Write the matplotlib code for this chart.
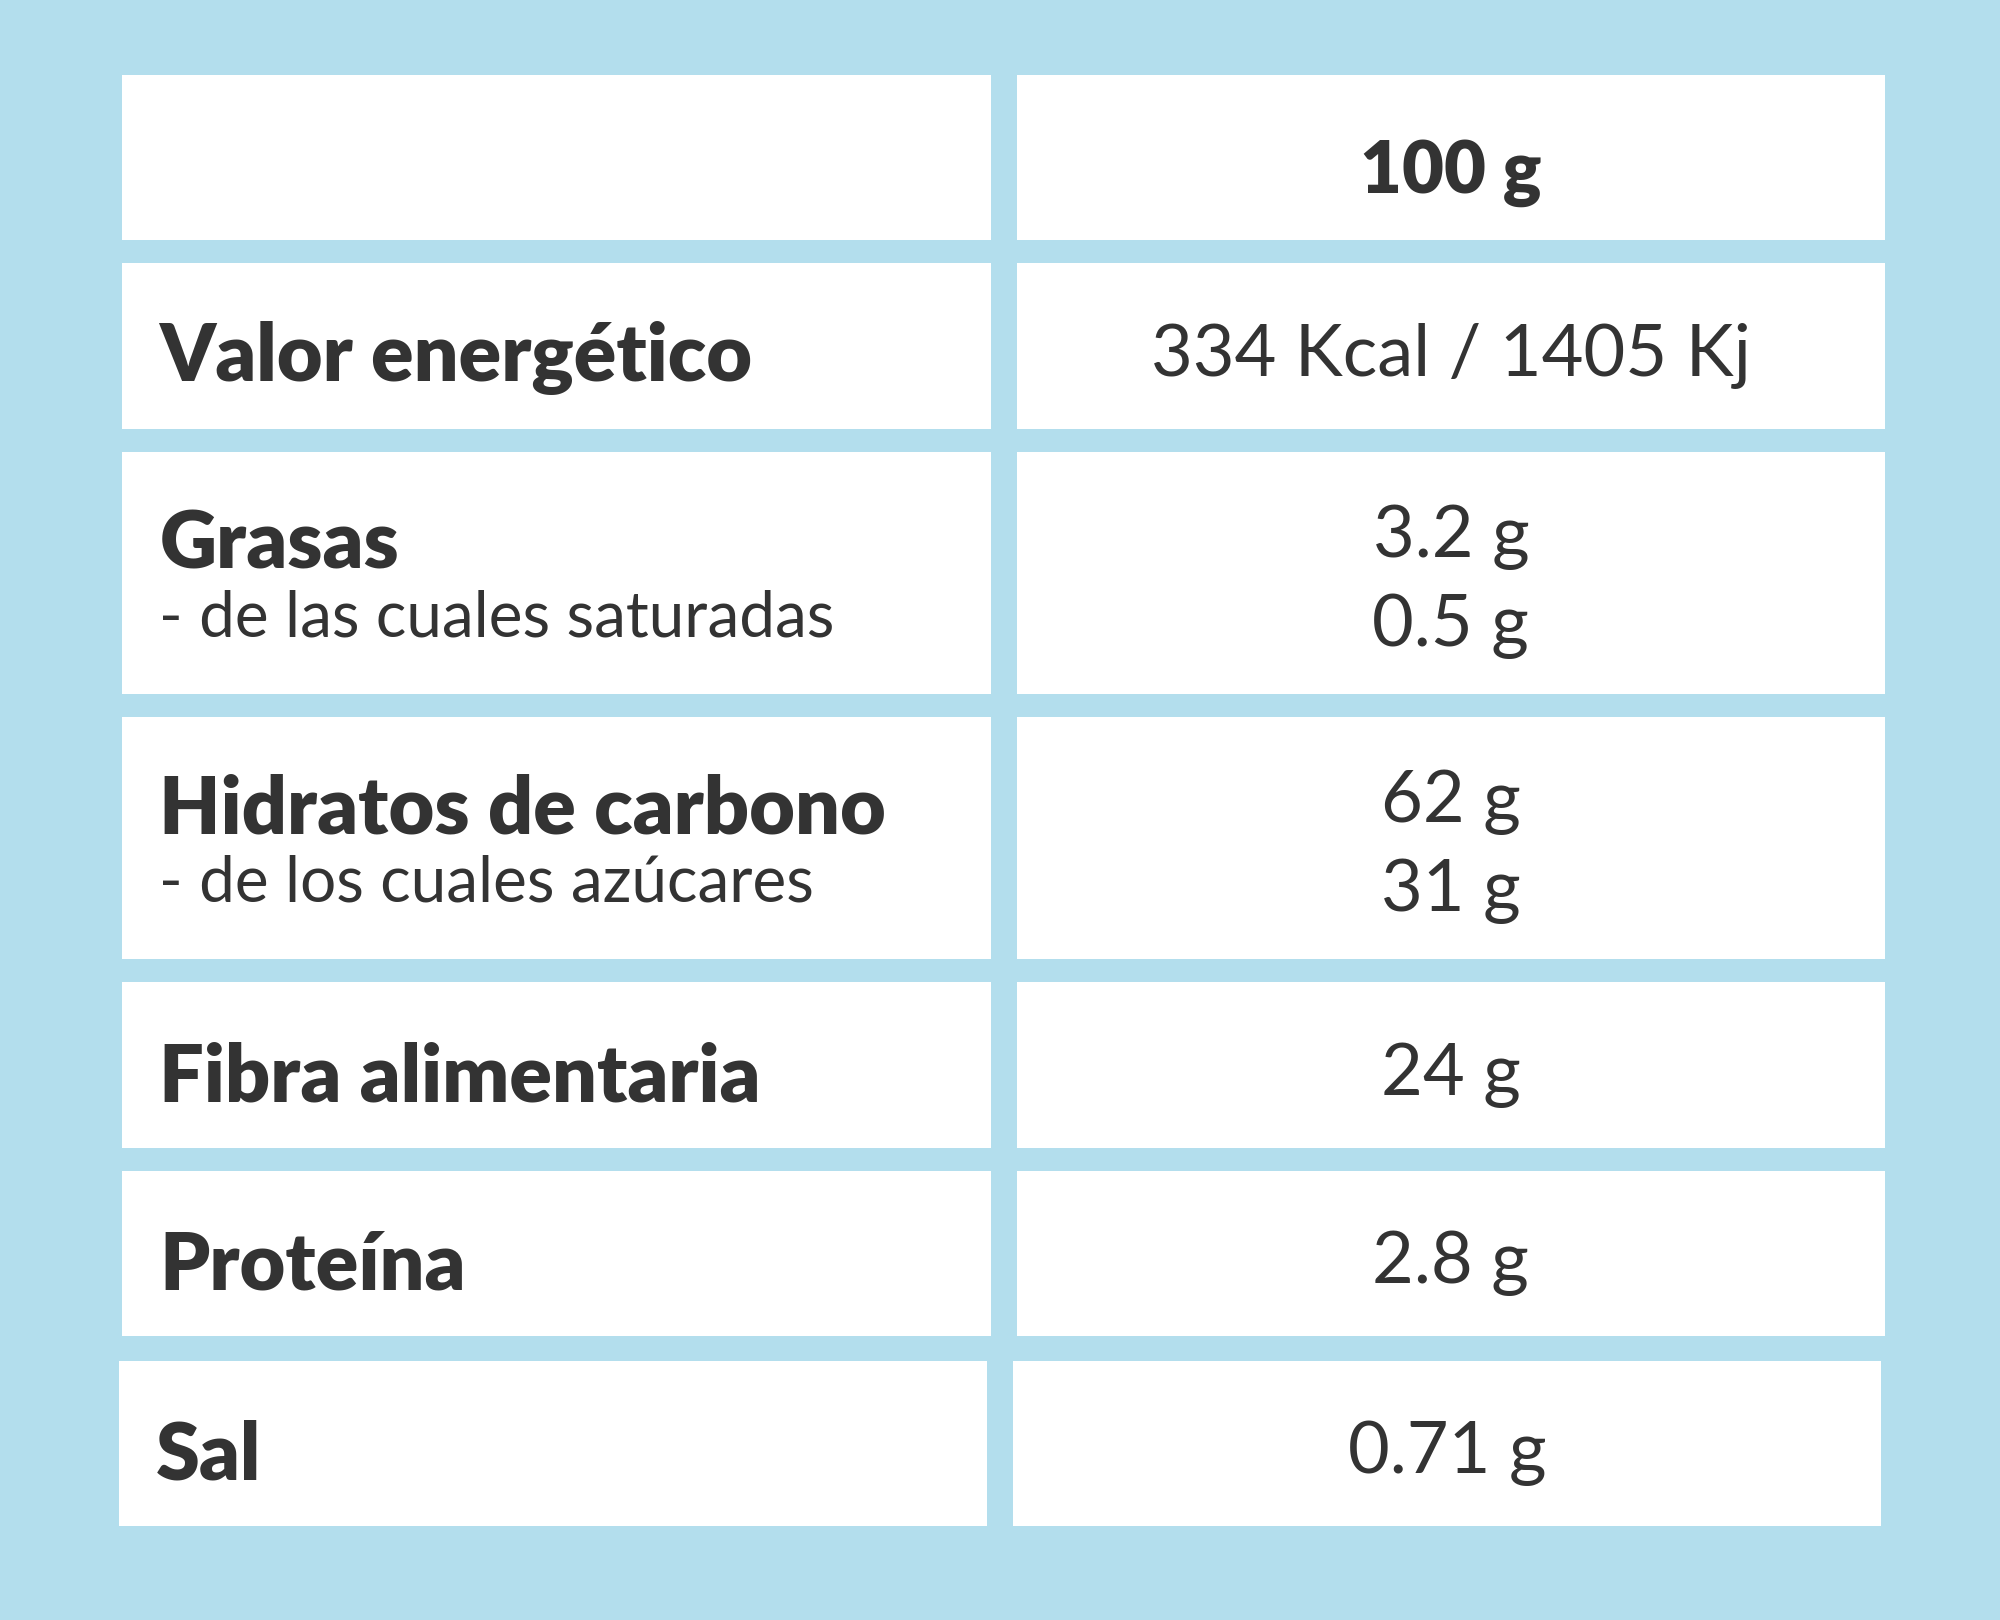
import matplotlib
matplotlib.use("Agg")
import matplotlib.pyplot as plt
from matplotlib.patches import Rectangle

header = "100 g"
nutrients = ["Valor energético", "Grasas", "Hidratos de carbono", "Fibra alimentaria", "Proteína", "Sal"]
sublabels = ["", "- de las cuales saturadas", "- de los cuales azúcares", "", "", ""]
values = ["334 Kcal / 1405 Kj", "3.2 g", "62 g", "24 g", "2.8 g", "0.71 g"]
subvalues = ["", "0.5 g", "31 g", "", "", ""]

W, H = 1568, 1270
BG = "#b3deed"
TXT = "#333333"

fig = plt.figure(figsize=(20, 16.2), dpi=100, facecolor=BG)
ax = fig.add_axes([0, 0, 1, 1])
ax.set_xlim(0, W)
ax.set_ylim(H, 0)
ax.axis("off")
ax.set_facecolor(BG)

rows = [(59, 188, 0), (206, 336, 0), (354, 544, 0), (562, 752, 0), (770, 900, 0), (918, 1047, 0), (1067, 1196, -3)]
L0, L1, R0, R1 = 96, 777, 797, 1478

def cell(x0, x1, y0, y1):
    ax.add_patch(Rectangle((x0, y0), x1 - x0, y1 - y0, facecolor="white", edgecolor="none"))

bold = dict(family=["Lato", "DejaVu Sans"], fontweight="heavy", color=TXT)
light = dict(family=["Lato", "DejaVu Sans"], fontweight="normal", color=TXT)

for i, (y0, y1, dx) in enumerate(rows):
    cell(L0 + dx, L1 + dx, y0, y1)
    cell(R0 + dx, R1 + dx, y0, y1)
    cx = (R0 + R1) / 2 + dx
    lx = 125 + dx
    if i == 0:
        ax.text(cx, (y0 + y1) / 2 + 12, header, ha="center", va="center", fontsize=52, **bold)
        continue
    j = i - 1
    mid = (y0 + y1) / 2
    if sublabels[j]:
        ax.text(lx, mid - 22, nutrients[j], ha="left", va="center", fontsize=57, **bold)
        ax.text(lx, mid + 36, sublabels[j], ha="left", va="center", fontsize=46, **light)
        ax.text(cx, mid - 28, values[j], ha="center", va="center", fontsize=52, **light)
        ax.text(cx, mid + 42, subvalues[j], ha="center", va="center", fontsize=52, **light)
    else:
        ax.text(lx, mid + 10, nutrients[j], ha="left", va="center", fontsize=57, **bold)
        ax.text(cx, mid + 8, values[j], ha="center", va="center", fontsize=52, **light)

fig.savefig("out.png", dpi=100, facecolor=BG)
